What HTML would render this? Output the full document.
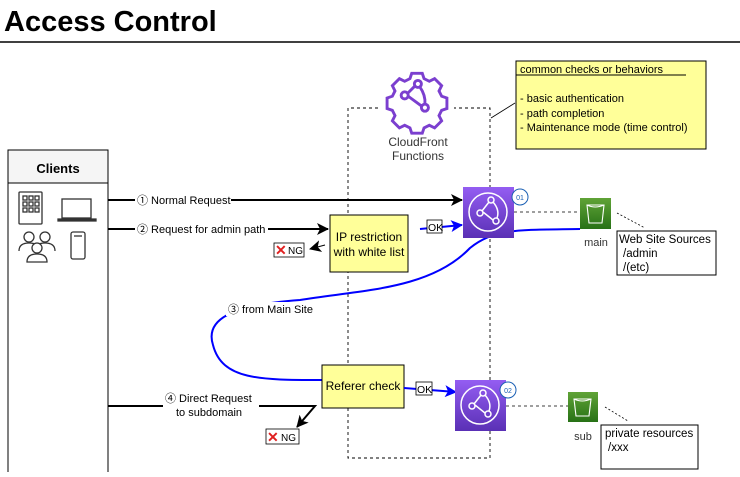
<!DOCTYPE html>
<html><head><meta charset="utf-8"><style>
body{margin:0;width:740px;height:472px;overflow:hidden;background:#fff;font-family:"Liberation Sans",sans-serif}
svg text{font-family:"Liberation Sans","Noto Sans CJK JP",sans-serif}
</style></head><body>
<svg width="740" height="472" viewBox="0 0 740 472" xmlns="http://www.w3.org/2000/svg">
<defs>
<marker id="ab" markerWidth="12" markerHeight="12" refX="11" refY="6" orient="auto" markerUnits="userSpaceOnUse"><path d="M0,0 L12,6 L0,12 L3,6z" fill="#000"/></marker>
<marker id="abl" markerWidth="12" markerHeight="12" refX="11" refY="6" orient="auto" markerUnits="userSpaceOnUse"><path d="M0,0 L12,6 L0,12 L3,6z" fill="#0000ff"/></marker>
<linearGradient id="pg" x1="0" y1="0" x2="0" y2="1"><stop offset="0" stop-color="#945df2"/><stop offset="1" stop-color="#5a30b5"/></linearGradient>
<linearGradient id="gg" x1="0" y1="0" x2="0" y2="1"><stop offset="0" stop-color="#60a337"/><stop offset="1" stop-color="#277116"/></linearGradient>
</defs>
<text x="4" y="31" font-size="29" font-weight="bold">Access Control</text>
<line x1="0" y1="42" x2="740" y2="42" stroke="#000" stroke-width="1.5"/>

<!-- Clients -->
<rect x="8" y="150" width="100" height="330" fill="#fff" stroke="#000"/>
<rect x="8" y="150" width="100" height="33" fill="#f5f5f5" stroke="#000"/>
<text x="58" y="173" font-size="13" font-weight="bold" text-anchor="middle">Clients</text>
<g stroke="#333" fill="none" stroke-width="1.3">
<rect x="19" y="192" width="23" height="32" rx="1"/>
<rect x="23" y="196" width="4" height="4"/><rect x="29" y="196" width="4" height="4"/><rect x="35" y="196" width="4" height="4"/>
<rect x="23" y="202" width="4" height="4"/><rect x="29" y="202" width="4" height="4"/><rect x="35" y="202" width="4" height="4"/>
<rect x="23" y="208" width="4" height="4"/><rect x="29" y="208" width="4" height="4"/><rect x="35" y="208" width="4" height="4"/>
<rect x="62" y="199" width="29" height="19"/><path d="M58,219 h38 v2 h-38z" fill="#333"/>
<circle cx="29" cy="237" r="5"/><path d="M19,251 q0,-8 10,-8 q10,0 10,8"/>
<circle cx="45" cy="237" r="5"/><path d="M35,251 q0,-8 10,-8 q10,0 10,8"/>
<circle cx="37" cy="248" r="5" fill="#fff"/><path d="M27,262 q0,-8 10,-8 q10,0 10,8z" fill="#fff"/>
<rect x="71" y="232" width="14" height="27" rx="2"/><line x1="74" y1="236" x2="82" y2="236"/>
</g>

<!-- dashed region -->
<path d="M348,108 V458 H490 V108 Z" fill="none" stroke="#000" stroke-dasharray="3,3" stroke-width="0.9"/>
<line x1="491" y1="118" x2="515" y2="103" stroke="#000" stroke-width="0.8"/>

<!-- CF functions icon -->
<rect x="380" y="66" width="74" height="66" fill="#fff"/>
<g transform="translate(417,98) scale(0.88)" fill="none" stroke="#7b3fcf" stroke-width="3.3">
<path d="M-6,-28 h12 l2,6 l6,3 l6,-3 l8,8 l-3,6 l3,6 l6,2 v12 l-6,2 l-3,6 l3,6 l-8,8 l-6,-3 l-6,3 l-2,6 h-12 l-2,-6 l-6,-3 l-6,3 l-8,-8 l3,-6 l-3,-6 l-6,-2 v-12 l6,-2 l3,-6 l-3,-6 l8,-8 l6,3 l6,-3z"/>
<circle cx="1" cy="-16" r="4"/><circle cx="-14" cy="-3" r="4"/><circle cx="9" cy="11" r="4"/>
<path d="M-11,-5 L-2,-14 M-10,-2 L5,9 M3,-13 Q10,-3 9,7"/>
</g>
<text x="418" y="146" font-size="12" fill="#333" text-anchor="middle">CloudFront</text>
<text x="418" y="160" font-size="12" fill="#333" text-anchor="middle">Functions</text>

<!-- Note -->
<rect x="516" y="61" width="190" height="88" fill="#ffff99" stroke="#000"/>
<text x="520" y="73" font-size="11">common checks or behaviors</text>
<line x1="516" y1="75" x2="686" y2="75" stroke="#000"/>
<text x="520" y="102" font-size="11">- basic authentication</text>
<text x="520" y="117" font-size="11">- path completion</text>
<text x="520" y="131" font-size="11">- Maintenance mode (time control)</text>

<!-- line 1 -->
<line x1="108" y1="200" x2="462" y2="200" stroke="#000" stroke-width="2" marker-end="url(#ab)"/>
<rect x="135" y="193" width="96" height="14" fill="#fff"/>
<text x="137" y="204" font-size="11">① Normal Request</text>
<!-- line 2 -->
<line x1="108" y1="229" x2="328" y2="229" stroke="#000" stroke-width="2" marker-end="url(#ab)"/>
<rect x="135" y="222" width="133" height="14" fill="#fff"/>
<text x="137" y="233" font-size="11">② Request for admin path</text>

<!-- IP box -->
<rect x="330" y="215" width="78" height="57" fill="#ffff99" stroke="#000"/>
<text x="369" y="241" font-size="12" text-anchor="middle">IP restriction</text>
<text x="369" y="256" font-size="12" text-anchor="middle">with white list</text>
<line x1="325" y1="245" x2="310" y2="249" stroke="#000" marker-end="url(#ab)"/>
<rect x="274" y="243" width="30" height="14" fill="#fff" stroke="#000" stroke-width="0.8"/>
<text x="275" y="255" font-size="14" fill="#e02020" font-weight="bold">✕</text>
<text x="288" y="254" font-size="10">NG</text>

<!-- blue curve -->
<path d="M580,229 C520,230 495,228 470,248 C430,290 360,290 300,300 C230,305 205,320 213,345 C222,380 260,380 322,380" fill="none" stroke="#0000ff" stroke-width="2"/>
<rect x="226" y="302" width="90" height="14" fill="#fff"/>
<text x="228" y="313" font-size="11">③ from Main Site</text>

<!-- OK 1 -->
<line x1="420" y1="229" x2="462" y2="225" stroke="#0000ff" stroke-width="2" marker-end="url(#abl)"/>
<rect x="427" y="220" width="15" height="13" fill="#fff" stroke="#000" stroke-width="0.8"/>
<text x="428" y="231" font-size="10.5">OK</text>

<!-- CF 01 -->
<rect x="463" y="187" width="51" height="51" fill="url(#pg)"/>
<g fill="none" stroke="#fff" stroke-width="1.5"><circle cx="488" cy="212" r="19"/><circle cx="480" cy="213" r="3"/><circle cx="491" cy="200" r="3"/><circle cx="496" cy="221" r="3"/><path d="M483,212 L493,220 M482,211 L489,202 M493,202 Q500,210 497,218"/></g>
<circle cx="520" cy="197" r="8" fill="#fff" stroke="#1a5fb4"/><text x="520" y="200" font-size="7" fill="#1a5fb4" text-anchor="middle">01</text>
<line x1="514" y1="212" x2="580" y2="212" stroke="#000" stroke-dasharray="3,3" stroke-width="0.8"/>

<!-- bucket main -->
<rect x="580" y="198" width="31" height="31" fill="url(#gg)"/>
<path d="M587,205 h17 l-2,18 h-13z M587,205 q8,4 17,0" fill="none" stroke="#fff" stroke-width="1.1"/>
<text x="596" y="246" font-size="11" fill="#333" text-anchor="middle">main</text>
<line x1="617" y1="213" x2="645" y2="228" stroke="#000" stroke-dasharray="2,2" stroke-width="0.8"/>
<rect x="617" y="231" width="99" height="44" fill="#fff" stroke="#000"/>
<text x="619" y="243" font-size="11.5">Web Site Sources</text>
<text x="623" y="257" font-size="11.5">/admin</text>
<text x="623" y="271" font-size="11.5">/(etc)</text>

<!-- Referer -->
<rect x="322" y="365" width="82" height="43" fill="#ffff99" stroke="#000"/>
<text x="363" y="390" font-size="12" text-anchor="middle">Referer check</text>
<line x1="404" y1="388" x2="456" y2="392" stroke="#0000ff" stroke-width="2" marker-end="url(#abl)"/>
<rect x="416" y="382" width="16" height="13" fill="#fff" stroke="#000" stroke-width="0.8"/>
<text x="417" y="393" font-size="10.5">OK</text>

<!-- line 4 -->
<polyline points="108,406 315,406 297,427" fill="none" stroke="#000" stroke-width="2" marker-end="url(#ab)"/>
<rect x="163" y="392" width="96" height="26" fill="#fff"/>
<text x="165" y="402" font-size="11">④ Direct Request</text>
<text x="176" y="416" font-size="11">to subdomain</text>
<rect x="266" y="429" width="33" height="15" fill="#fff" stroke="#000" stroke-width="0.8"/>
<text x="267" y="442" font-size="14" fill="#e02020" font-weight="bold">✕</text>
<text x="281" y="441" font-size="10">NG</text>

<!-- CF 02 -->
<rect x="455" y="380" width="51" height="51" fill="url(#pg)"/>
<g fill="none" stroke="#fff" stroke-width="1.5"><circle cx="480" cy="405" r="19"/><circle cx="472" cy="406" r="3"/><circle cx="483" cy="393" r="3"/><circle cx="488" cy="414" r="3"/><path d="M475,405 L485,413 M474,404 L481,395 M485,395 Q492,403 489,411"/></g>
<circle cx="508" cy="390" r="8" fill="#fff" stroke="#1a5fb4"/><text x="508" y="393" font-size="7" fill="#1a5fb4" text-anchor="middle">02</text>
<line x1="506" y1="406" x2="568" y2="406" stroke="#000" stroke-dasharray="3,3" stroke-width="0.8"/>

<!-- bucket sub -->
<rect x="568" y="392" width="30" height="30" fill="url(#gg)"/>
<path d="M574,399 h17 l-2,17 h-13z M574,399 q8,4 17,0" fill="none" stroke="#fff" stroke-width="1.1"/>
<text x="583" y="440" font-size="11" fill="#333" text-anchor="middle">sub</text>
<line x1="605" y1="407" x2="628" y2="421" stroke="#000" stroke-dasharray="2,2" stroke-width="0.8"/>
<rect x="601" y="425" width="97" height="44" fill="#fff" stroke="#000"/>
<text x="605" y="437" font-size="11.5">private resources</text>
<text x="608" y="451" font-size="11.5">/xxx</text>
</svg>
</body></html>
